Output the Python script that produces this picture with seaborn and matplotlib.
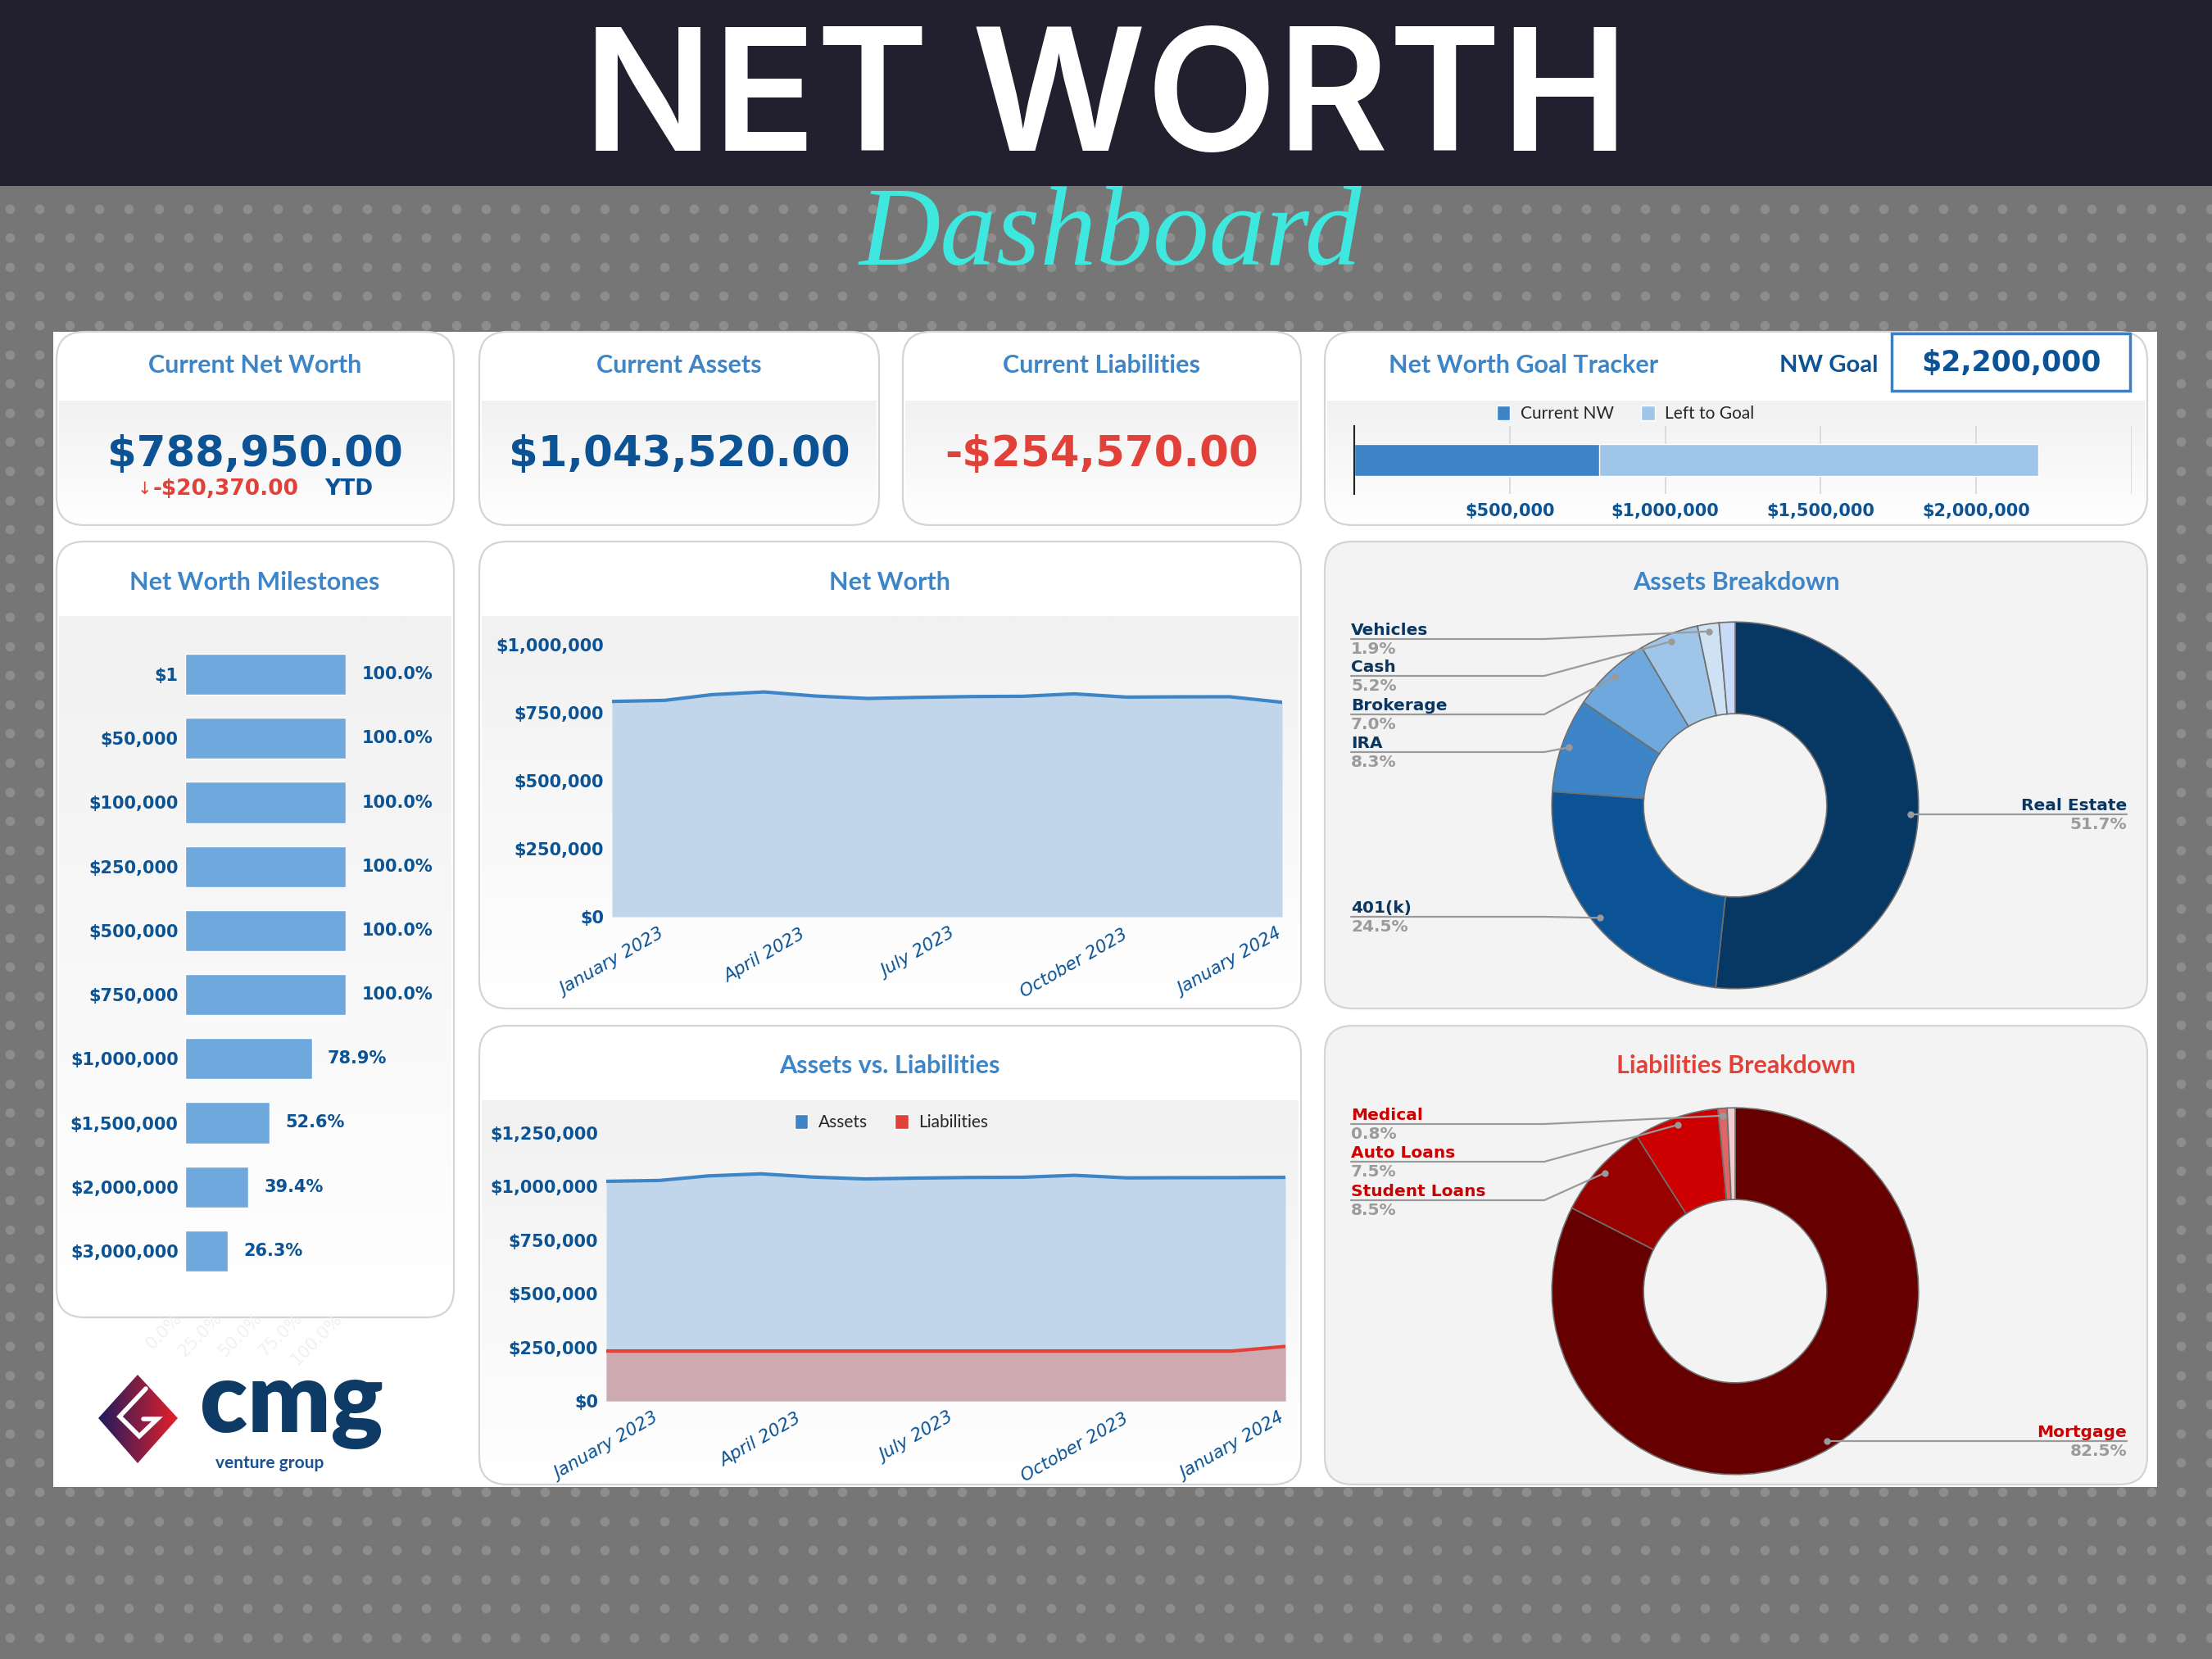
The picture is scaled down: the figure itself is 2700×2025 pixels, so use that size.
import numpy as np
import pandas as pd
import matplotlib
matplotlib.use("Agg")
import matplotlib.pyplot as plt
import matplotlib.colors as mcolors
import seaborn as sns
from matplotlib.patches import FancyBboxPatch, Polygon, Rectangle, Patch

# ---------------- data ----------------
months = pd.date_range("2023-01-01", periods=14, freq="MS")
net_worth = [792000, 796000, 817000, 827000, 812000, 803000, 807000,
             810000, 811000, 820000, 808000, 809000, 809320, 788950]
assets = [1025000, 1029000, 1050000, 1060000, 1045000, 1036000, 1040000,
          1043000, 1044000, 1053000, 1041000, 1042000, 1042320, 1043520]
liabilities = [233000, 233000, 233000, 233000, 233000, 233000, 233000,
               233000, 233000, 233000, 233000, 233000, 233000, 254570]
tick_months = ["January 2023", "April 2023", "July 2023", "October 2023", "January 2024"]

current_net_worth = 788950.00
current_assets = 1043520.00
current_liabilities = -254570.00
ytd_change = -20370.00
nw_goal = 2200000
goal_ticks = [500000, 1000000, 1500000, 2000000]

milestone_labels = ["$1", "$50,000", "$100,000", "$250,000", "$500,000", "$750,000",
                    "$1,000,000", "$1,500,000", "$2,000,000", "$3,000,000"]
milestone_pct = [100.0, 100.0, 100.0, 100.0, 100.0, 100.0, 78.9, 52.6, 39.4, 26.3]

asset_cats = ["Real Estate", "401(k)", "IRA", "Brokerage", "Cash", "Vehicles", "Other"]
asset_pct = [51.7, 24.5, 8.3, 7.0, 5.2, 1.9, 1.4]
asset_colors = ["#073763", "#0b5394", "#3d85c6", "#6fa8dc", "#9fc5e8", "#cfe2f3", "#c9daf8"]

liab_cats = ["Mortgage", "Student Loans", "Auto Loans", "Medical", "Other"]
liab_pct = [82.5, 8.5, 7.5, 0.8, 0.7]
liab_colors = ["#660000", "#990000", "#cc0000", "#e06666", "#f4cccc"]

# ---------------- style ----------------
sns.set_theme(style="white")
plt.rcParams["font.family"] = ["DejaVu Sans"]
plt.rcParams["axes.unicode_minus"] = False

BLUE_T = "#3d85c6"
NAVY = "#0b5394"
RED = "#e2413a"
TITLE_FONT = ["Lato", "DejaVu Sans"]

W, H = 2700, 2025
fig = plt.figure(figsize=(W / 100, H / 100), dpi=100)
fig.patch.set_facecolor("#767676")


def frect(x0, y0, x1, y1):
    return [x0 / W, 1 - y1 / H, (x1 - x0) / W, (y1 - y0) / H]


def canvas_axes(z):
    a = fig.add_axes([0, 0, 1, 1], zorder=z)
    a.set_xlim(0, W)
    a.set_ylim(H, 0)
    a.axis("off")
    a.patch.set_alpha(0)
    return a


bg = canvas_axes(0)

# dotted background
gx, gy = np.meshgrid(np.arange(12, W + 20, 36.3), np.arange(219, H + 20, 35.6))
bg.scatter(gx.ravel(), gy.ravel(), s=70, color="#8d8d8d", lw=0, zorder=0.5)
bg.add_patch(Rectangle((0, 0), W, 227, fc="#221f2f", ec="none", zorder=1))
bg.add_patch(Rectangle((65, 405), 2568, 1410, fc="white", ec="none", zorder=1))

nw_title = bg.text(1350, 184, "NET WORTH", fontsize=150, color="white",
                   family=["Inter", "Open Sans", "DejaVu Sans"],
                   fontweight="semibold", ha="center", va="baseline", zorder=6)
dash_title = bg.text(1355, 240, "Dashboard", fontsize=99, color="#3ee8de",
                     family=["Liberation Serif", "DejaVu Serif"],
                     fontstyle="italic", ha="center", va="top", zorder=6)


def gradient(x0, y0, x1, y1, clip, c_top="#f1f1f1", c_bot="#ffffff"):
    t = np.linspace(0, 1, 256)[:, None, None]
    a = np.array(mcolors.to_rgb(c_top))
    b = np.array(mcolors.to_rgb(c_bot))
    img = a * (1 - t) + b * t
    im = bg.imshow(img, extent=(x0, x1, y1, y0), origin="upper", aspect="auto",
                   zorder=2.5, interpolation="bilinear")
    im.set_clip_path(clip)


def card(x0, y0, x1, y1, band=None, face="white"):
    p = FancyBboxPatch((x0, y0), x1 - x0, y1 - y0, boxstyle="round,pad=0,rounding_size=34",
                       fc=face, ec="none", zorder=2)
    bg.add_patch(p)
    if band is not None:
        gradient(x0 + 3, band[0], x1 - 3, band[1], p)
    bg.add_patch(FancyBboxPatch((x0, y0), x1 - x0, y1 - y0, boxstyle="round,pad=0,rounding_size=34",
                                fc="none", ec="#d4d4d4", lw=1.6, zorder=3))


def title(x, y, s, color=BLUE_T, size=22):
    bg.text(x, y + 3, s, fontsize=size, color=color, family=TITLE_FONT, fontweight="bold",
            ha="center", va="center", zorder=4)


# KPI cards
card(69, 405, 554, 641, band=(489, 641))
card(585, 405, 1073, 641, band=(489, 641))
card(1102, 405, 1588, 641, band=(489, 641))
card(1617, 405, 2621, 641, band=(489, 641))
title(311, 443, "Current Net Worth")
title(829, 443, "Current Assets")
title(1345, 443, "Current Liabilities")


def money(v):
    return f"${v:,.2f}" if v >= 0 else f"-${-v:,.2f}"


bg.text(311, 555, money(current_net_worth), fontsize=37, fontweight="bold", color=NAVY,
        ha="center", va="center", zorder=4)
bg.text(829, 555, money(current_assets), fontsize=37, fontweight="bold", color=NAVY,
        ha="center", va="center", zorder=4)
bg.text(1345, 555, money(current_liabilities), fontsize=37, fontweight="bold", color=RED,
        ha="center", va="center", zorder=4)
bg.text(176, 597, "\u2193", fontsize=15, color=RED, ha="center", va="center", zorder=4)
bg.text(187, 597, money(ytd_change), fontsize=19, fontweight="bold", color=RED,
        ha="left", va="center", zorder=4)
bg.text(396, 597, "YTD", fontsize=19, fontweight="bold", color=NAVY, ha="left", va="center", zorder=4)

# goal tracker header
title(1860, 443, "Net Worth Goal Tracker")
bg.text(2232, 446, "NW Goal", fontsize=21, color=NAVY, family=TITLE_FONT, fontweight="bold",
        ha="center", va="center", zorder=4)
bg.add_patch(Rectangle((2309, 407), 291, 70, fc="white", ec="#3d7fc1", lw=2.5, zorder=4))
bg.text(2455, 443, f"${nw_goal:,.0f}", fontsize=25, fontweight="bold", color=NAVY,
        ha="center", va="center", zorder=5)

# other cards
card(69, 661, 554, 1608, band=(752, 1600))
card(585, 661, 1588, 1231, band=(752, 1231))
card(585, 1252, 1588, 1812, band=(1343, 1812))
card(1617, 661, 2621, 1231, face="#f3f3f3")
card(1617, 1252, 2621, 1812, face="#f3f3f3")
title(311, 708, "Net Worth Milestones")
title(1086, 708, "Net Worth")
title(1086, 1298, "Assets vs. Liabilities")
title(2119, 708, "Assets Breakdown")
title(2119, 1298, "Liabilities Breakdown", color=RED)

tick_kw = dict(fontsize=15, fontweight="bold", color=NAVY)

# ---------------- goal tracker bar ----------------
gax = fig.add_axes(frect(1653, 520, 2602, 603), zorder=5)
gax.patch.set_alpha(0)
goal_df = pd.DataFrame({"row": ["NW"], "goal": [nw_goal], "current": [current_net_worth]})
sns.barplot(data=goal_df, x="goal", y="row", color="#9fc5e8", saturation=1, width=0.48, ax=gax, orient="h")
sns.barplot(data=goal_df, x="current", y="row", color="#3d85c6", saturation=1, width=0.48, ax=gax, orient="h")
gax.set_xlim(0, 2500000)
gax.set_ylim(0.5, -0.5)
gax.set_xticks(goal_ticks)
gax.set_xticklabels([f"${v:,.0f}" for v in goal_ticks], **tick_kw)
gax.set_yticks([])
gax.xaxis.grid(True, color="#d6d6d6", lw=1.2)
gax.set_axisbelow(True)
gax.axvline(2500000, color="#d6d6d6", lw=1.2)
for s in ["top", "right", "bottom"]:
    gax.spines[s].set_visible(False)
gax.spines["left"].set_color("#222222")
gax.spines["left"].set_linewidth(1.5)
gax.tick_params(axis="x", length=0, pad=8)
gax.set_xlabel("")
gax.set_ylabel("")
gax.legend(handles=[Patch(fc="#3d85c6"), Patch(fc="#9fc5e8")], labels=["Current NW", "Left to Goal"],
           loc="center", bbox_to_anchor=((1984 - 1653) / 949, 1 + (520 - 505) / 83), ncol=2,
           frameon=False, prop={"family": TITLE_FONT, "size": 15}, handlelength=0.8, handleheight=1.0,
           columnspacing=1.6, handletextpad=0.6)

# ---------------- milestones ----------------
mx = fig.add_axes(frect(226, 784, 422, 1566), zorder=5)
mx.patch.set_alpha(0)
ms_df = pd.DataFrame({"milestone": milestone_labels, "pct": milestone_pct})
sns.barplot(data=ms_df, x="pct", y="milestone", color="#6fa8dc", saturation=1, width=0.64, ax=mx, orient="h")
mx.set_xlim(0, 100)
mx.bar_label(mx.containers[0], labels=[f"{v:.1f}%" for v in milestone_pct], padding=14, **tick_kw)
mx.set_yticks(range(len(milestone_labels)))
mx.set_yticklabels(milestone_labels, **tick_kw)
mx.set_xticks([0, 25, 50, 75, 100])
mx.set_xticklabels(["0.0%", "25.0%", "50.0%", "75.0%", "100.0%"], fontsize=15, color="#f1f1f1",
                   rotation=45, ha="right")
mx.tick_params(axis="y", length=0, pad=6)
mx.tick_params(axis="x", length=0, pad=24)
for s in mx.spines.values():
    s.set_visible(False)
mx.set_xlabel("")
mx.set_ylabel("")

# ---------------- net worth line ----------------
nx = fig.add_axes(frect(747, 754, 1565, 1119), zorder=5)
nx.patch.set_alpha(0)
nw_df = pd.DataFrame({"month": months, "net_worth": net_worth})
nx.fill_between(months, 0, net_worth, color="#c2d6eb", lw=0)
sns.lineplot(data=nw_df, x="month", y="net_worth", color="#3d85c6", lw=3, ax=nx)
nx.set_xlim(months[0], months[-1])
nx.set_ylim(0, 1100000)
yt = [0, 250000, 500000, 750000, 1000000]
nx.set_yticks(yt)
nx.set_yticklabels([f"${v:,.0f}" for v in yt], **tick_kw)
tick_pos = [months[0], months[3], months[6], months[9], months[12]]
nx.set_xticks(tick_pos)
nx.set_xticklabels(tick_months, fontsize=15.5, color=NAVY, fontstyle="italic", rotation=30, ha="center")
nx.tick_params(axis="y", length=0, pad=7)
nx.tick_params(axis="x", length=0, pad=8)
for s in nx.spines.values():
    s.set_visible(False)
nx.set_xlabel("")
nx.set_ylabel("")

# ---------------- assets vs liabilities ----------------
ax2 = fig.add_axes(frect(740, 1370, 1569, 1710), zorder=5)
ax2.patch.set_alpha(0)
al_df = pd.DataFrame({"month": months, "Assets": assets, "Liabilities": liabilities})
ax2.fill_between(months, 0, assets, color="#c2d6eb", lw=0)
ax2.fill_between(months, 0, liabilities, color="#cda9b0", lw=0)
sns.lineplot(data=al_df, x="month", y="Assets", color="#3d85c6", lw=3, ax=ax2)
sns.lineplot(data=al_df, x="month", y="Liabilities", color=RED, lw=3, ax=ax2)
ax2.set_xlim(months[0], months[-1])
ax2.set_ylim(0, 1300000)
yt2 = [0, 250000, 500000, 750000, 1000000, 1250000]
ax2.set_yticks(yt2)
ax2.set_yticklabels([f"${v:,.0f}" for v in yt2], **tick_kw)
ax2.set_xticks(tick_pos)
ax2.set_xticklabels(tick_months, fontsize=15.5, color=NAVY, fontstyle="italic", rotation=30, ha="center")
ax2.tick_params(axis="y", length=0, pad=7)
ax2.tick_params(axis="x", length=0, pad=8)
for s in ax2.spines.values():
    s.set_visible(False)
ax2.set_xlabel("")
ax2.set_ylabel("")
ax2.legend(handles=[Patch(fc="#3d85c6"), Patch(fc=RED)], labels=["Assets", "Liabilities"],
           loc="center", bbox_to_anchor=((1088 - 740) / 829, 1.0), ncol=2, frameon=False,
           prop={"family": TITLE_FONT, "size": 15}, handlelength=0.8, handleheight=1.0,
           columnspacing=1.6, handletextpad=0.6)

# ---------------- donuts ----------------
top = canvas_axes(10)
LINE_C = "#9a9a9a"


def donut(cx, cy, R, values, cats, colors, name_color, left_lines, right_cats):
    ax = fig.add_axes(frect(cx - R, cy - R, cx + R, cy + R), zorder=5)
    wedges, _ = ax.pie(values, colors=colors, startangle=90, counterclock=False,
                       wedgeprops=dict(width=0.5, edgecolor="#6f6f6f", linewidth=1.2))
    ax.set_xlim(-1.01, 1.01)
    ax.set_ylim(-1.01, 1.01)
    ax.set_aspect("equal")
    for w, cat, v in zip(wedges, cats, values):
        if cat not in left_lines and cat not in right_cats:
            continue
        th = np.deg2rad((w.theta1 + w.theta2) / 2)
        px = cx + 0.95 * R * np.cos(th)
        py = cy - 0.95 * R * np.sin(th)
        if cat in left_lines:
            ly = left_lines[cat]
            top.plot([px, 1885, 1649], [py, ly, ly], color=LINE_C, lw=1.6, zorder=1)
            x_t, ha = 1649, "left"
        else:
            ly = py
            top.plot([px, 2596], [py, py], color=LINE_C, lw=1.6, zorder=1)
            x_t, ha = 2596, "right"
        top.plot([px], [py], "o", ms=5, color=LINE_C, zorder=2)
        top.text(x_t, ly - 5, cat, fontsize=14.5, fontweight="bold", color=name_color,
                 ha=ha, va="baseline", zorder=3)
        top.text(x_t, ly + 3, f"{v:.1f}%", fontsize=14.5, fontweight="bold", color="#9b9b9b",
                 ha=ha, va="top", zorder=3)


donut(2118, 983, 226, asset_pct, asset_cats, asset_colors, "#0b3660",
      {"Vehicles": 780, "Cash": 825, "Brokerage": 872, "IRA": 918, "401(k)": 1119}, ["Real Estate"])
donut(2118, 1576, 226, liab_pct, liab_cats, liab_colors, "#cc0000",
      {"Medical": 1372, "Auto Loans": 1418, "Student Loans": 1465}, ["Mortgage"])

# ---------------- logo ----------------
lg = np.linspace(0, 1, 200)[None, :, None]
c1 = np.array(mcolors.to_rgb("#1e1b5e"))
c2 = np.array(mcolors.to_rgb("#e5202b"))
dia = Polygon([(168, 1678), (217, 1731), (168, 1786), (120, 1731)], closed=True,
              fc="none", ec="none", zorder=4)
bg.add_patch(dia)
im = bg.imshow(c1 * (1 - lg) + c2 * lg, extent=(120, 217, 1786, 1678), origin="upper",
               aspect="auto", zorder=4, interpolation="bilinear")
im.set_clip_path(dia)
bg.plot([178, 146, 170, 192, 175], [1695, 1729, 1753, 1732, 1732], color="white", lw=4,
        solid_joinstyle="miter", zorder=5)
bg.text(356, 1748, "cmg", fontsize=86, fontweight="heavy", color="#0d3b66",
        family=["Lato", "DejaVu Sans"], ha="center", va="baseline", zorder=5)
bg.text(329, 1786, "venture group", fontsize=15, fontweight="bold", color="#1a5296",
        family=["Lato", "DejaVu Sans"], ha="center", va="center", zorder=5)

bg.set_xlim(0, W)
bg.set_ylim(H, 0)

# place "Dashboard" directly under the title block (layout only)
fig.canvas.draw()
r = fig.canvas.get_renderer()
bb = nw_title.get_window_extent(r)
dash_title.set_y(H - bb.y0 + 1)

fig.savefig("out.png", dpi=100, facecolor=fig.get_facecolor())
